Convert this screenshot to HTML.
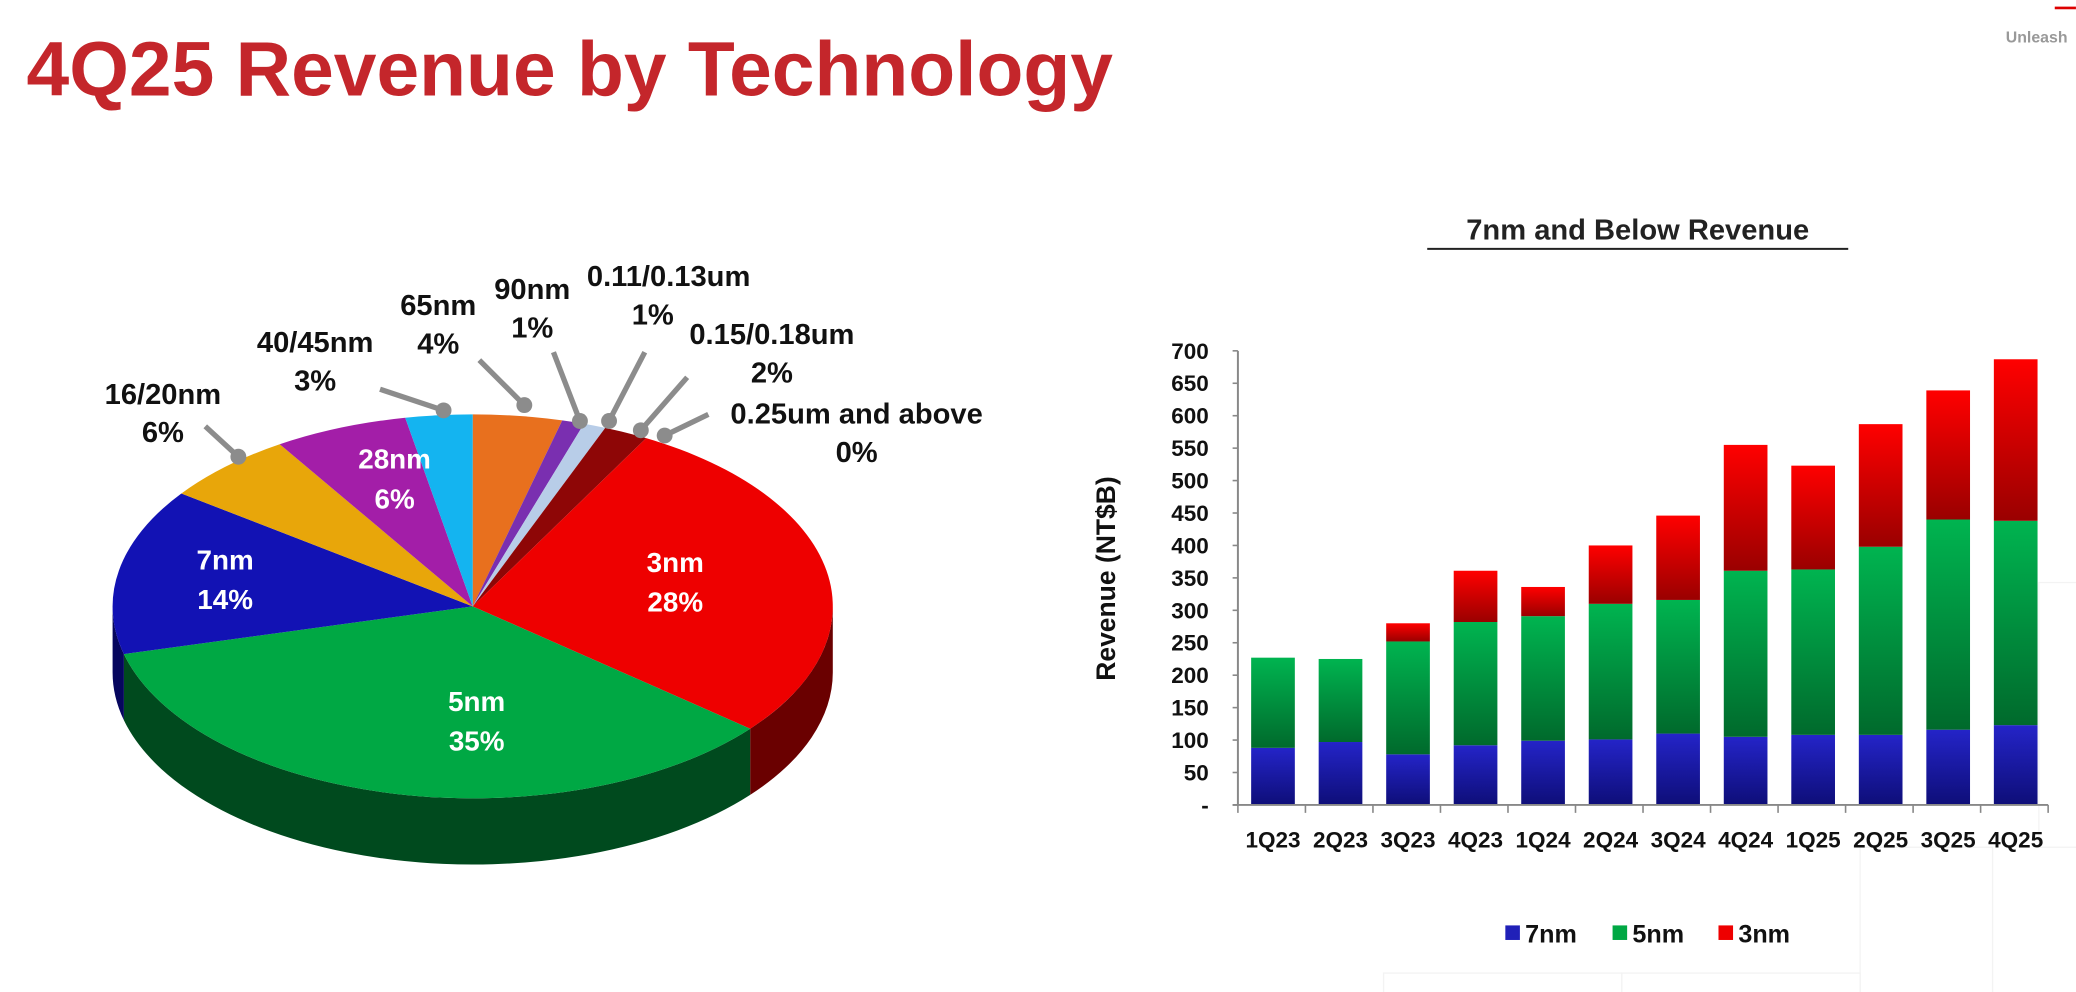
<!DOCTYPE html>
<html><head><meta charset="utf-8"><style>
html,body{margin:0;padding:0;background:#fff;}
svg{display:block;font-family:"Liberation Sans",sans-serif;}
</style></head><body>
<svg id="s" width="2076" height="992" viewBox="0 0 1568 749.3" xmlns="http://www.w3.org/2000/svg">
<defs>
<linearGradient id="gB" x1="0" y1="0" x2="0" y2="1"><stop offset="0" stop-color="#2424c8"/><stop offset="1" stop-color="#0e0e78"/></linearGradient>
<linearGradient id="gG" x1="0" y1="0" x2="0" y2="1"><stop offset="0" stop-color="#00b450"/><stop offset="1" stop-color="#006a2c"/></linearGradient>
<linearGradient id="gR" x1="0" y1="0" x2="0" y2="1"><stop offset="0" stop-color="#ff0000"/><stop offset="1" stop-color="#9a0000"/></linearGradient>
</defs>
<g stroke="#f3f3f3" fill="none">
<rect x="1045" y="735" width="180" height="20"/><rect x="1225" y="735" width="180" height="20"/>
<rect x="1405" y="640" width="100" height="120"/><rect x="1540" y="440" width="40" height="200"/>
</g>
<text x="20" y="72" font-size="58" font-weight="bold" fill="#c4262b">4Q25 Revenue by Technology</text>
<text x="1515" y="32" font-size="12" font-weight="bold" fill="#999">Unleash</text>
<rect x="1552" y="5" width="16" height="2" fill="#d00"/>
<g id="pie"></g>
<g id="bar"></g>
</svg>
<script>
var NS="http://www.w3.org/2000/svg";
var pieLabels=["65nm","90nm","0.11/0.13um","0.15/0.18um","0.25um and above","3nm","5nm","7nm","16/20nm","28nm","40/45nm"];
var pieValues=[4,1,1,2,0,28,35,14,6,6,3];
var pieColors=["#e8701e","#7a2fb0","#b8cde8","#8e0606","#600000","#ee0000","#00a844","#1212b4","#e8a60a","#a31ea8","#14b4f0"];
var pieSide=["#8a3a08","#40155e","#7a8aa0","#4a0000","#300000","#6a0000","#004a1e","#06065e","#8a6000","#5a0c5e","#0a6a90"];
var categories=["1Q23","2Q23","3Q23","4Q23","1Q24","2Q24","3Q24","4Q24","1Q25","2Q25","3Q25","4Q25"];
var s7nm=[88,97,78,92,99,101,110,105,108,108,116,123];
var s5nm=[139,128,174,190,192,209,206,256,255,290,324,315];
var s3nm=[0,0,28,79,45,90,130,194,160,189,199,249];
var yTicks=[0,50,100,150,200,250,300,350,400,450,500,550,600,650,700];
var yTickLabels=["-","50","100","150","200","250","300","350","400","450","500","550","600","650","700"];

function el(tag,attrs,parent){var e=document.createElementNS(NS,tag);for(var k in attrs)e.setAttribute(k,attrs[k]);parent.appendChild(e);return e;}

(function(){
var g=document.getElementById('pie');
var cx=357,cy=458,rx=272,ry=145,dep=50;
function pt(t,dy){return [cx+rx*Math.sin(t),cy-ry*Math.cos(t)+(dy||0)];}
var total=pieValues.reduce(function(a,b){return a+b;},0);
var cum=0,ang=[];
for(var i=0;i<pieValues.length;i++){var a0=cum/total*2*Math.PI;cum+=pieValues[i];ang.push([a0,cum/total*2*Math.PI]);}
for(var i=0;i<pieValues.length;i++){
  var a=Math.max(ang[i][0],Math.PI/2),b=Math.min(ang[i][1],1.5*Math.PI);
  if(b<=a)continue;
  var p1=pt(a),p2=pt(b),p3=pt(b,dep),p4=pt(a,dep);
  var d="M"+p1+" A"+rx+" "+ry+" 0 0 1 "+p2+" L"+p3+" A"+rx+" "+ry+" 0 0 0 "+p4+" Z";
  var e=el('path',{d:d,fill:pieSide[i]},g);
  
  
}
for(var i=0;i<pieValues.length;i++){
  if(ang[i][1]-ang[i][0]<=0)continue;
  var p1=pt(ang[i][0]),p2=pt(ang[i][1]);
  var large=(ang[i][1]-ang[i][0])>Math.PI?1:0;
  var d="M"+cx+","+cy+" L"+p1+" A"+rx+" "+ry+" 0 "+large+" 1 "+p2+" Z";
  var e=el('path',{d:d,fill:pieColors[i]},g);
  
  
}
var inside={"3nm":[510,432],"5nm":[360,537],"7nm":[170,430],"28nm":[298,354]};
var outside={"16/20nm":[123,305,155,322,180,345],"40/45nm":[238,266,287,294,335,310],"65nm":[331,238,362,272,396,306],
"90nm":[402,226,418,266,438,318],"0.11/0.13um":[505,216,487,266,460,318],"0.15/0.18um":[583,260,519,285,484,325],"0.25um and above":[647,320,535,313,502,329]};
for(var i=0;i<pieLabels.length;i++){
  var n=pieLabels[i],pct=pieValues[i]+"%";
  if(inside[n]){
    var p=inside[n];
    var t=el('text',{x:p[0],y:p[1],'text-anchor':'middle','font-size':21,'font-weight':'bold',fill:'#fff'},g);
    
    
    t.textContent=n;
    var t2=el('text',{x:p[0],y:p[1]+30,'text-anchor':'middle','font-size':21,'font-weight':'bold',fill:'#fff'},g);
    
    
    t2.textContent=pct;
  } else if(outside[n]){
    var p=outside[n];
    var ln=el('line',{x1:p[2],y1:p[3],x2:p[4],y2:p[5],stroke:'#8c8c8c','stroke-width':4},g);
    
    
    var dot=el('circle',{cx:p[4],cy:p[5],r:6,fill:'#8c8c8c'},g);
    
    
    var t=el('text',{x:p[0],y:p[1],'text-anchor':'middle','font-size':22,'font-weight':'bold',fill:'#111'},g);
    
    
    t.textContent=n;
    var t2=el('text',{x:p[0]-(n==="0.11/0.13um"?12:0),y:p[1]+29,'text-anchor':'middle','font-size':22,'font-weight':'bold',fill:'#111'},g);
    
    
    t2.textContent=pct;
  }
}
})();

(function(){
var g=document.getElementById('bar');
var x0=935,slot=51,bw=33,y0=608,yMax=700,ph=343;
function yS(v){return y0-v/yMax*ph;}
function xS(i){return x0+1+i*slot+(slot-bw)/2;}
var t=el('text',{x:1237,y:181,'text-anchor':'middle','font-size':22,'font-weight':'bold',fill:'#222'},g);


t.textContent="7nm and Below Revenue";
var u=el('line',{x1:1078,y1:188,x2:1396,y2:188,stroke:'#222','stroke-width':1.5},g);


var yt=el('text',{x:0,y:0,transform:'translate(842,437) rotate(-90)','text-anchor':'middle','font-size':20,'font-weight':'bold',fill:'#111'},g);


yt.textContent="Revenue (NT$B)";
for(var i=0;i<yTicks.length;i++){
  var tl=el('text',{x:913,y:yS(yTicks[i])+6,'text-anchor':'end','font-size':17,'font-weight':'bold',fill:'#111'},g);
  
  
  tl.textContent=yTickLabels[i];
  var tk=el('line',{x1:x0-4,y1:yS(yTicks[i]),x2:x0,y2:yS(yTicks[i]),stroke:'#888','stroke-width':1.2},g);
  
  
}
var series=[[s7nm,'url(#gB)','7nm'],[s5nm,'url(#gG)','5nm'],[s3nm,'url(#gR)','3nm']];
for(var i=0;i<categories.length;i++){
  var base=0;
  for(var k=0;k<series.length;k++){
    var v=series[k][0][i];
    if(v>0){
      var r=el('rect',{x:xS(i),y:yS(base+v),width:bw,height:yS(base)-yS(base+v),fill:series[k][1]},g);
      
      
    }
    base+=v;
  }
  var xl=el('text',{x:x0+i*slot+slot/2+1,y:640,'text-anchor':'middle','font-size':17,'font-weight':'bold',fill:'#111'},g);
  
  
  xl.textContent=categories[i];
}
for(var i=0;i<=categories.length;i++){
  var tk=el('line',{x1:x0+i*slot,y1:y0,x2:x0+i*slot,y2:y0+6,stroke:'#888','stroke-width':1.2},g);
  
  
}
var ya=el('line',{x1:x0,y1:yS(700),x2:x0,y2:y0,stroke:'#888','stroke-width':1.5},g);


var xa=el('line',{x1:x0-4,y1:y0,x2:x0+categories.length*slot,y2:y0,stroke:'#888','stroke-width':1.5},g);


var lx=[1137,1218,1298];
var lc=["#2020b8","#00a844","#ee0000"];
for(var k=0;k<3;k++){
  var sq=el('rect',{x:lx[k],y:699,width:11,height:11,fill:lc[k]},g);
  
  
  var lt=el('text',{x:lx[k]+15,y:712,'font-size':19,'font-weight':'bold',fill:'#111'},g);
  
  
  lt.textContent=series[k][2];
}
})();
</script>
</body></html>
